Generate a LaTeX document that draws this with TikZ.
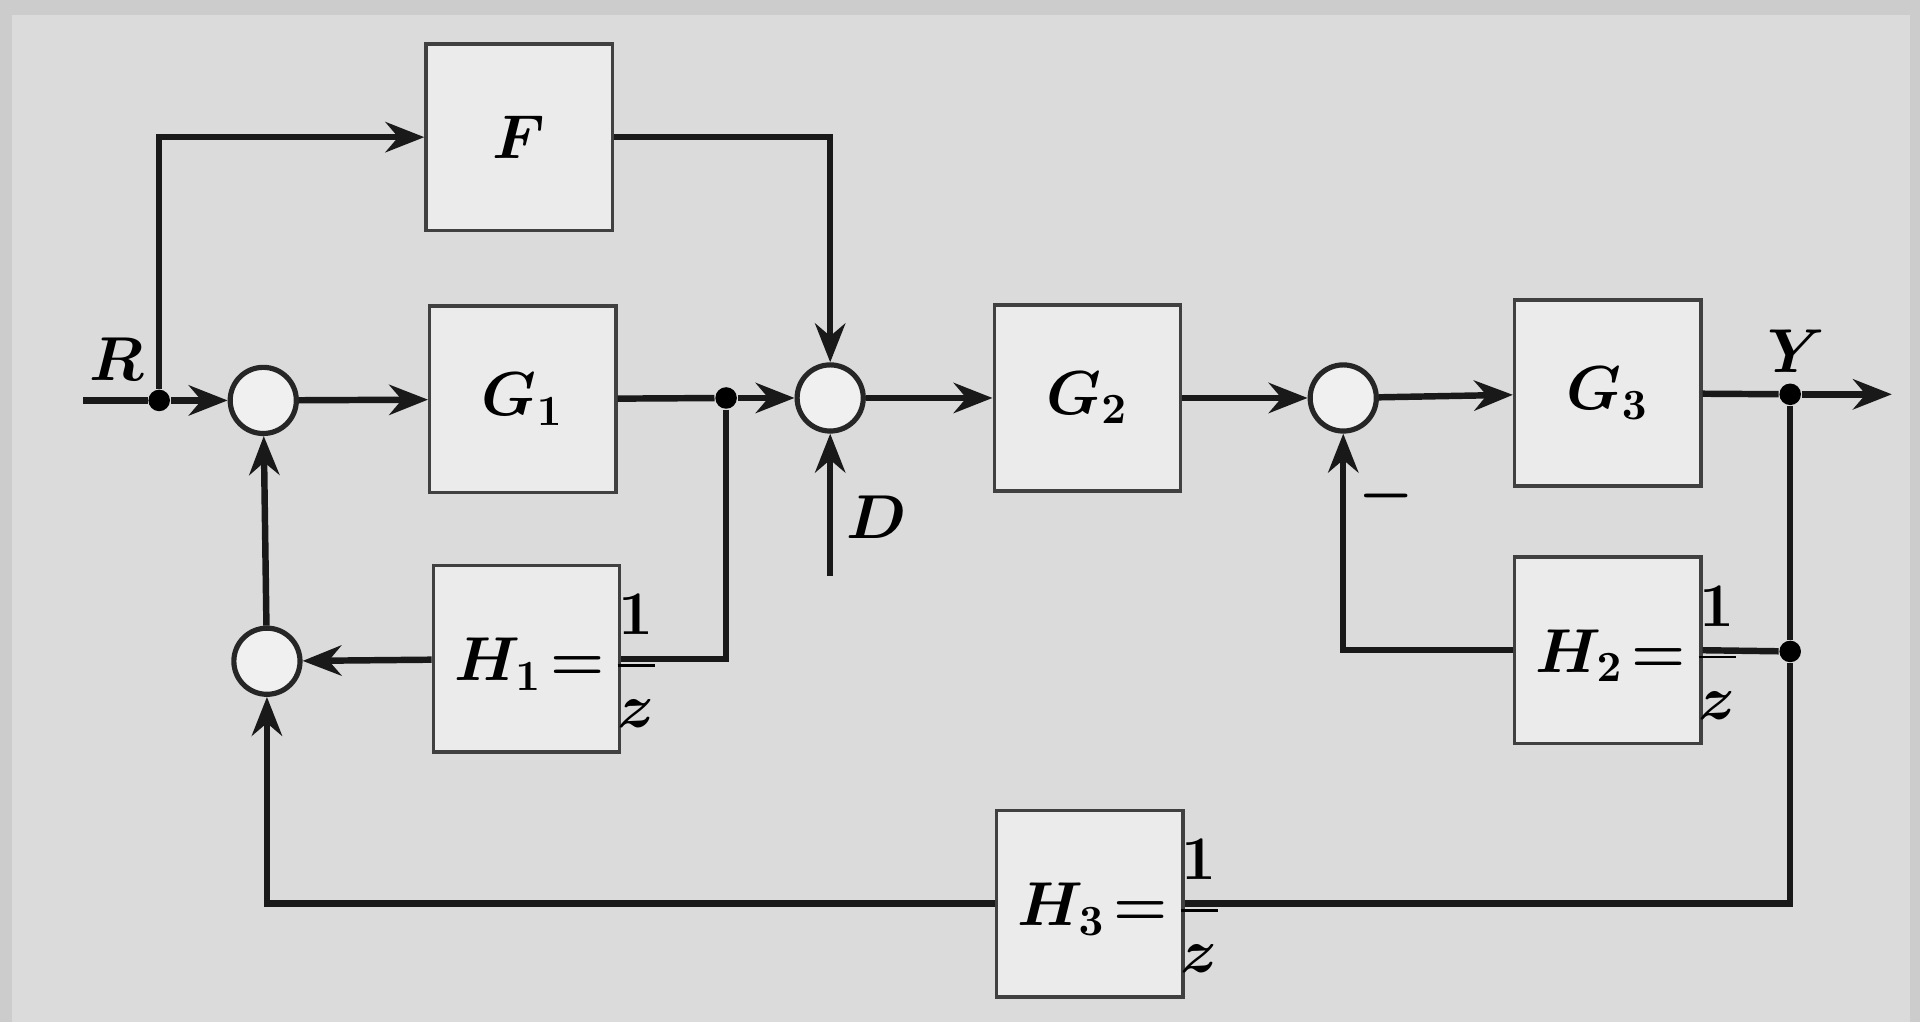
\documentclass[tikz,border=0pt]{standalone}
\usepackage{amsmath}
\usetikzlibrary{arrows.meta}
\begin{document}
\begin{tikzpicture}[x=0.01cm,y=-0.01cm,
  blk/.style={draw=black!75,line width=0.8pt,fill=black!8,minimum width=1.52cm,minimum height=1.52cm,inner sep=0pt,font=\Large\boldmath},
  sumc/.style={circle,draw=black!85,line width=1.2pt,fill=black!6,minimum size=0.54cm,inner sep=0pt},
  wire/.style={line width=1.5pt,black!90},
  arr/.style={wire,-{Stealth[length=9pt,width=7pt]}},
  dot/.style={circle,fill=black,inner sep=0pt,minimum size=5pt},
  lbl/.style={font=\Large\boldmath}]
\fill[black!20] (0,0) rectangle (1568,835);
\fill[black!14] (10,12) rectangle (1560,835);
\useasboundingbox (0,0) rectangle (1568,835);
\node[blk] (F) at (424,112) {$F$};
\node[blk] (G1) at (427,326) {$G_1$};
\node[blk] (H1) at (430,538) {};
\node[lbl] at (455,540) {$H_1\!=\!\displaystyle\frac{1}{z}$};
\node[blk] (G2) at (888,325) {$G_2$};
\node[blk] (G3) at (1313,321) {$G_3$};
\node[blk] (H2) at (1313,531) {};
\node[lbl] at (1338,533) {$H_2\!=\!\displaystyle\frac{1}{z}$};
\node[blk] (H3) at (890,738) {};
\node[lbl] at (915,740) {$H_3\!=\!\displaystyle\frac{1}{z}$};
\node[sumc] (S1) at (215,327) {};
\node[sumc] (S2) at (218,540) {};
\node[sumc] (S3) at (678,325) {};
\node[sumc] (S4) at (1097,325) {};
\coordinate (Rin) at (68,327);
\node[dot] (J1) at (130,327) {};
\node[dot] (J2) at (593,325) {};
\node[dot] (JY) at (1462,322) {};
\node[dot] (JH2) at (1462,532) {};
\coordinate (Yout) at (1545,322);
\coordinate (Din) at (678,470);
\node[lbl] at (95,293) {$R$};
\node[lbl] at (1467,287) {$Y$};
\node[lbl] at (716,422) {$D$};
\node[lbl] at (1132,405) {$-$};
\draw[wire] (Rin) -- (J1);
\draw[arr] (J1) -- (S1);
\draw[arr] (J1) |- (F.west);
\draw[arr] (F.east) -| (S3.north);
\draw[arr] (S1) -- (G1);
\draw[wire] (G1) -- (J2);
\draw[arr] (J2) -- (S3);
\draw[wire] (J2) |- (H1.east);
\draw[arr] (H1) -- (S2);
\draw[arr] (S2) -- (S1);
\draw[arr] (Din) -- (S3.south);
\draw[arr] (S3) -- (G2);
\draw[arr] (G2) -- (S4);
\draw[arr] (S4) -- (G3);
\draw[wire] (G3) -- (JY);
\draw[arr] (JY) -- (Yout);
\draw[wire] (JY) -- (JH2);
\draw[wire] (JH2) -- (H2.east);
\draw[arr] (H2.west) -| (S4.south);
\draw[wire] (JH2) |- (H3.east);
\draw[arr] (H3.west) -| (S2.south);
\end{tikzpicture}
\end{document}
